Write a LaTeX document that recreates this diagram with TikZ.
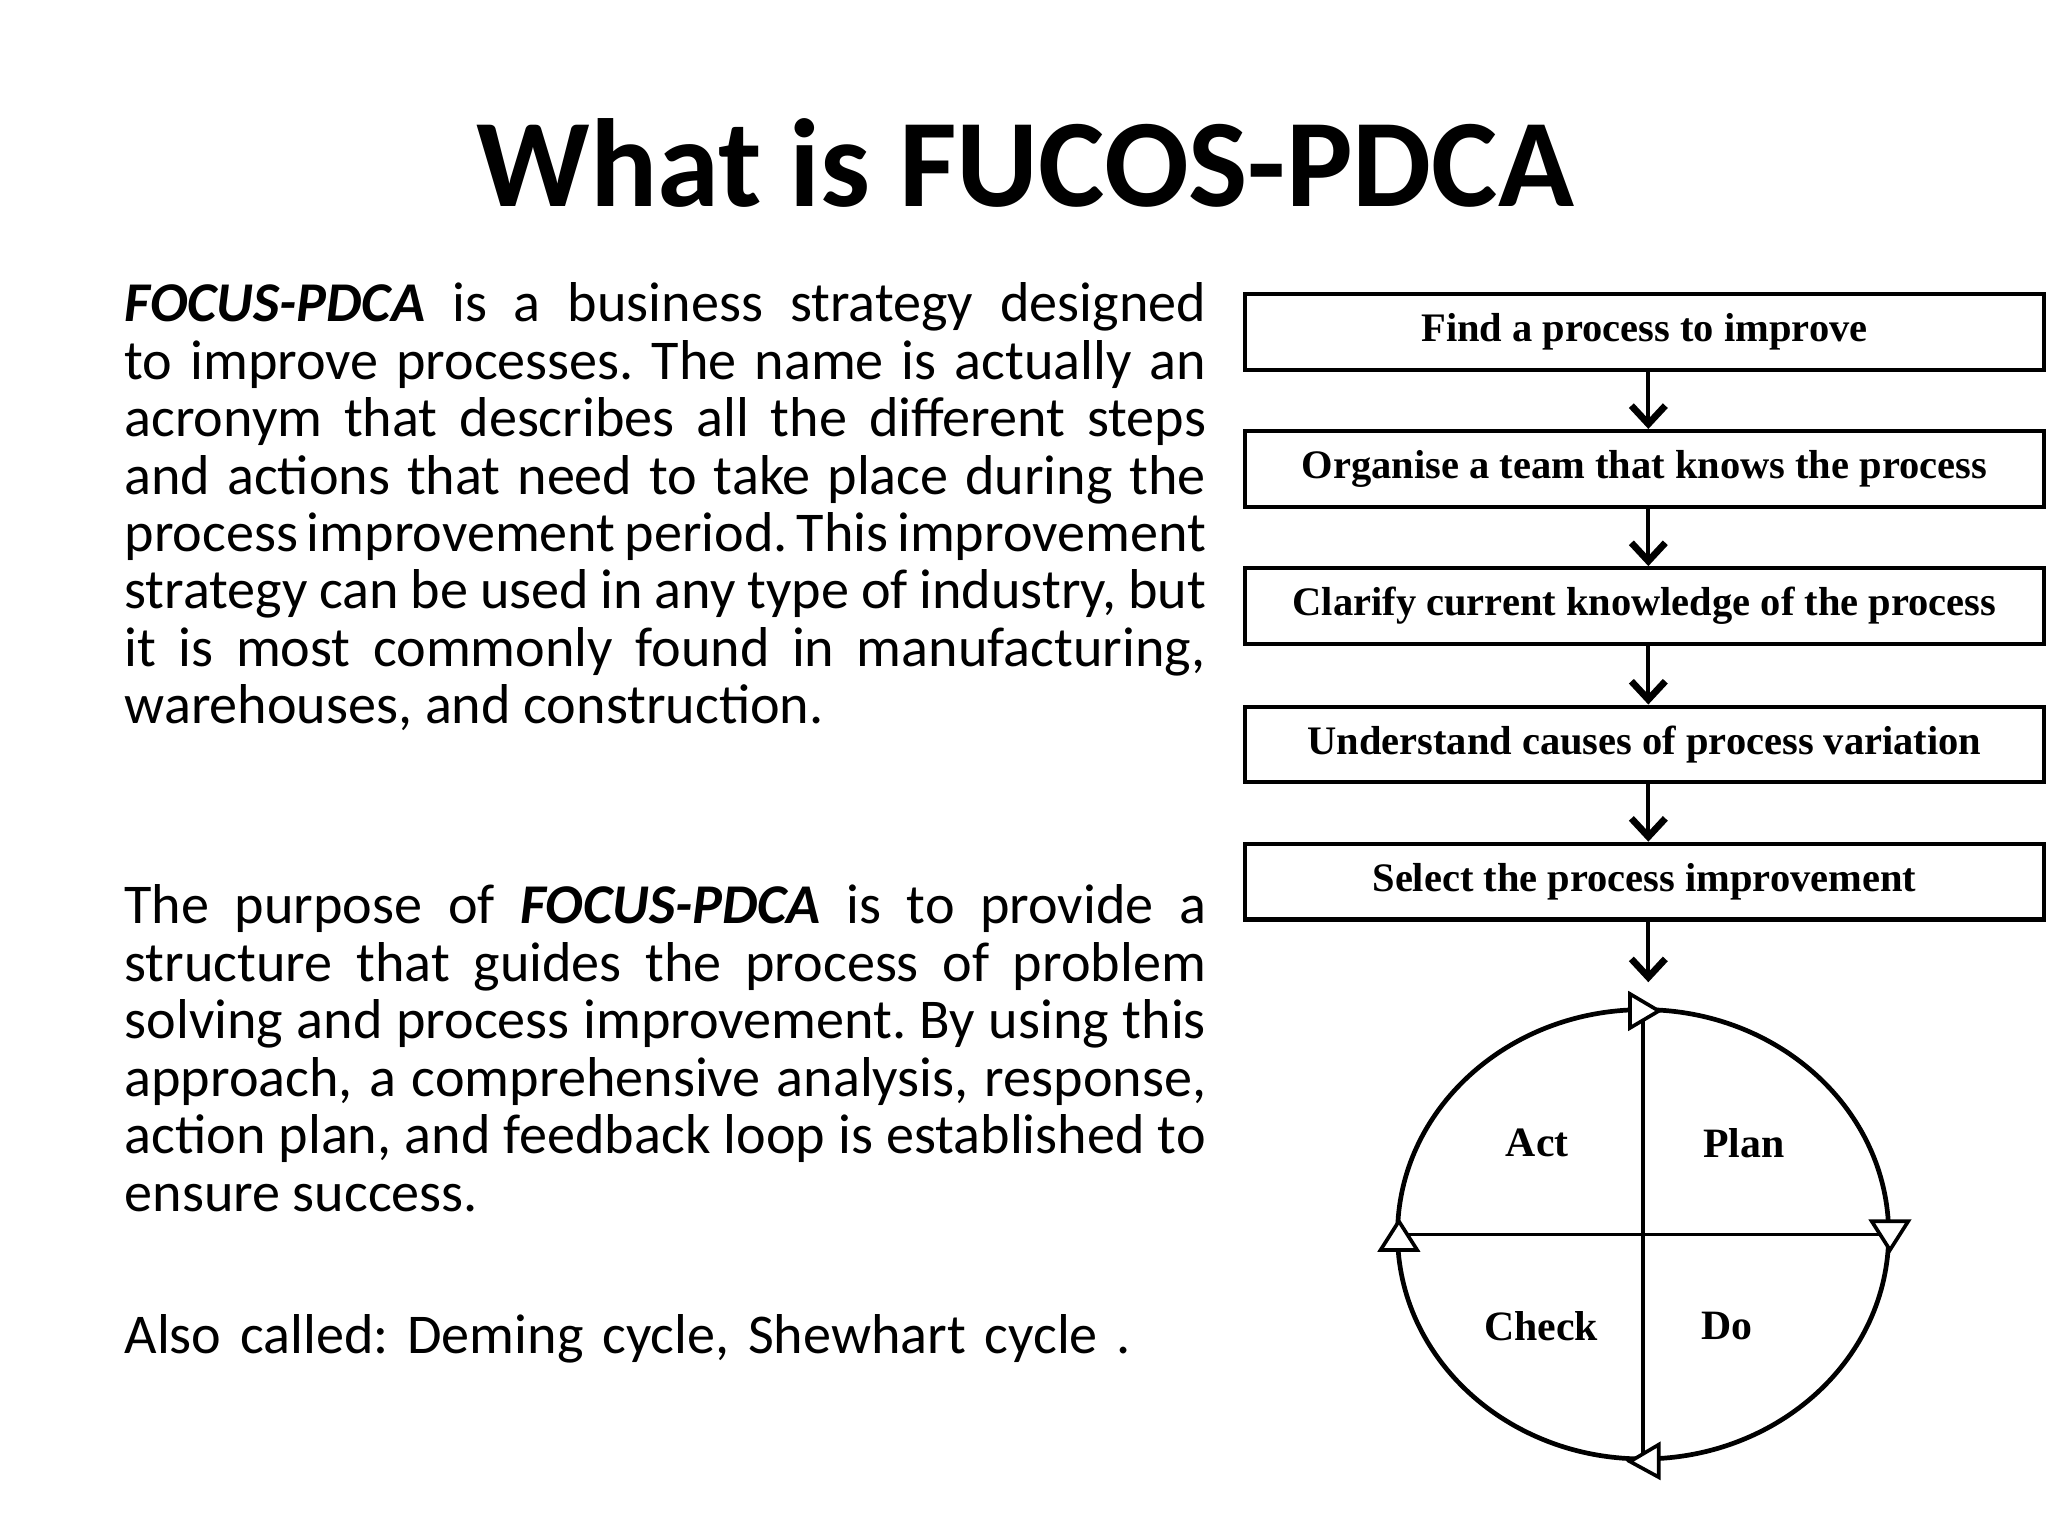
\documentclass[tikz,border=0pt]{standalone}
\usepackage{fontspec}
\setmainfont{Carlito}
\newfontfamily\boxfont{Liberation Serif}
\usetikzlibrary{arrows.meta}
\begin{document}
\frenchspacing\hyphenpenalty=10000 \exhyphenpenalty=10000
\begin{tikzpicture}[x=0.5pt,y=-0.5pt,
  stepbox/.style={draw,line width=1.6pt,minimum width=306pt,minimum height=29pt,inner sep=0pt,font=\boxfont\bfseries\fontsize{15.5}{17}\selectfont},
  flow/.style={line width=1.6pt,-{Straight Barb[length=7pt,width=13pt,line width=2.6pt]}},
  para/.style={anchor=north west,text width=414pt,align=justify,inner sep=0pt,font=\fontsize{21.5}{22}\selectfont},
  qlabel/.style={font=\boxfont\bfseries\fontsize{16}{18}\selectfont},
  tri/.style={draw,fill=white,line width=1.4pt,line join=miter}]
\useasboundingbox[fill=white] (0,0) rectangle (1568,1176);
\node[font=\bfseries\fontsize{48}{54}\selectfont] (title) at (785,125) {What is FUCOS-PDCA};
\node[para] (p1) at (95,216) {\textbf{\textit{FOCUS-PDCA}} is a business strategy designed to improve processes. The name is actually an acronym that describes all the different steps and actions that need to take place during the process improvement period. This improvement strategy can be used in any type of industry, but it is most commonly found in manufacturing, warehouses, and construction.};
\node[para] (p2) at (95,677) {The purpose of \textbf{\textit{FOCUS-PDCA}} is to provide a structure that guides the process of problem solving and process improvement. By using this approach, a comprehensive analysis, response, action plan, and feedback loop is established to ensure success.};
\node[para,text width=440pt,align=left] (p3) at (95,1006) {Also called: Deming cycle, Shewhart cycle .};
\node[stepbox] (b1) at (1259,254) {Find a process to improve};
\node[stepbox] (b2) at (1259,359) {Organise a team that knows the process};
\node[stepbox] (b3) at (1259,464) {Clarify current knowledge of the process};
\node[stepbox] (b4) at (1259,570) {Understand causes of process variation};
\node[stepbox] (b5) at (1259,675) {Select the process improvement};
\draw[flow] (b1.south -| 1262,0) -- (b2.north -| 1262,0);
\draw[flow] (b2.south -| 1262,0) -- (b3.north -| 1262,0);
\draw[flow] (b3.south -| 1262,0) -- (b4.north -| 1262,0);
\draw[flow] (b4.south -| 1262,0) -- (b5.north -| 1262,0);
\draw[flow] (b5.south -| 1262,0) -- (1262,752);
\draw[line width=1.8pt] (1258,945) ellipse [x radius=188, y radius=172];
\draw[line width=1.3pt] (1258,773) -- (1258,1117);
\draw[line width=1.3pt] (1070,945) -- (1446,945);
\draw[tri] (1248,761) -- (1270,774) -- (1248,787) -- cycle;
\draw[tri] (1433,935) -- (1461,935) -- (1447,957) -- cycle;
\draw[tri] (1270,1106) -- (1248,1119) -- (1270,1131) -- cycle;
\draw[tri] (1057,957) -- (1085,957) -- (1071,935) -- cycle;
\node[qlabel] (act) at (1177,875) {Act};
\node[qlabel] (plan) at (1335,875) {Plan};
\node[qlabel] (check) at (1180,1015) {Check};
\node[qlabel] (do) at (1322,1015) {Do};
\end{tikzpicture}
\end{document}
